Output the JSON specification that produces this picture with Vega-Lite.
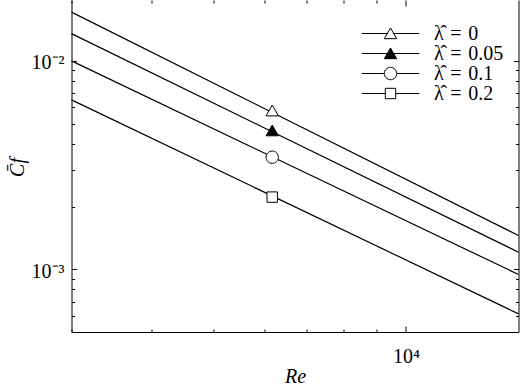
{
  "$schema": "https://vega.github.io/schema/vega-lite/v6.json",
  "width": 447,
  "height": 332,
  "autosize": {"type": "none"},
  "padding": {"left": 71.5, "top": 0, "right": 1.5, "bottom": 53},
  "background": "white",
  "config": {
    "view": {"stroke": null},
    "font": "Liberation Serif",
    "axis": {"grid": false, "domainColor": "black", "tickColor": "black", "labelColor": "black", "titleColor": "black", "labelFont": "Liberation Serif", "titleFont": "Liberation Serif", "labelFontSize": 20, "titleFontSize": 20, "titleFontWeight": "normal", "labelOverlap": false, "labelFlush": false, "domainWidth": 1, "tickWidth": 1}
  },
  "datasets": {
    "lines": [
      {"lam": "0", "Re": 3000, "Cf": 0.01714},
      {"lam": "0", "Re": 15000, "Cf": 0.001453},
      {"lam": "0.05", "Re": 3000, "Cf": 0.01352},
      {"lam": "0.05", "Re": 15000, "Cf": 0.001208},
      {"lam": "0.1", "Re": 3000, "Cf": 0.0100},
      {"lam": "0.1", "Re": 15000, "Cf": 0.000944},
      {"lam": "0.2", "Re": 3000, "Cf": 0.0065},
      {"lam": "0.2", "Re": 15000, "Cf": 0.000611}
    ],
    "markers": [
      {"lam": "0", "Re": 6180, "Cf": 0.00577},
      {"lam": "0.05", "Re": 6180, "Cf": 0.00463},
      {"lam": "0.1", "Re": 6180, "Cf": 0.00345},
      {"lam": "0.2", "Re": 6180, "Cf": 0.00222}
    ]
  },
  "layer": [
    {
      "data": {"name": "lines"},
      "mark": {"type": "line", "color": "black", "strokeWidth": 1.2},
      "encoding": {
        "x": {
          "field": "Re", "type": "quantitative",
          "scale": {"type": "log", "domain": [3000, 15000], "nice": false},
          "axis": {
            "orient": "bottom",
            "values": [3000, 4000, 5000, 6000, 7000, 8000, 9000, 10000],
            "labelExpr": "datum.value == 10000 ? '10⁴' : ''",
            "tickSize": {"condition": {"test": "datum.value == 10000", "value": -6}, "value": -3},
            "labelPadding": 36,
            "labelBaseline": "alphabetic",
            "title": "Re",
            "titleFontStyle": "italic",
            "titleY": 50,
            "titleBaseline": "alphabetic"
          }
        },
        "y": {
          "field": "Cf", "type": "quantitative",
          "scale": {"type": "log", "domain": [0.0005, 0.0196], "nice": false},
          "axis": {
            "orient": "left",
            "values": [0.0005, 0.0006, 0.0007, 0.0008, 0.0009, 0.001, 0.002, 0.003, 0.004, 0.005, 0.006, 0.007, 0.008, 0.009, 0.01],
            "labelExpr": "datum.value == 0.01 ? '10⁻²' : datum.value == 0.001 ? '10⁻³' : ''",
            "tickSize": {"condition": {"test": "datum.value == 0.01 || datum.value == 0.001", "value": -5}, "value": -3},
            "labelPadding": 12.5,
            "labelBaseline": "alphabetic",
            "labelOffset": 8,
            "title": "C̄f",
            "titleFontStyle": "italic",
            "titleX": -48.5,
            "titleY": 167,
            "titleAngle": -90,
            "titleAlign": "center",
            "titleBaseline": "alphabetic"
          }
        },
        "detail": {"field": "lam", "type": "nominal"}
      }
    },
    {
      "data": {"name": "markers"},
      "mark": {"type": "point", "stroke": "black", "strokeWidth": 1, "opacity": 1, "size": 169},
      "encoding": {
        "x": {
          "field": "Re", "type": "quantitative",
          "axis": {"orient": "top", "values": [3000, 4000, 5000, 6000, 7000, 8000, 9000, 10000], "labels": false, "domain": false, "tickSize": {"condition": {"test": "datum.value == 10000", "value": -6}, "value": -3}, "title": null}
        },
        "y": {
          "field": "Cf", "type": "quantitative",
          "axis": {"orient": "right", "values": [0.0005, 0.0006, 0.0007, 0.0008, 0.0009, 0.001, 0.002, 0.003, 0.004, 0.005, 0.006, 0.007, 0.008, 0.009, 0.01], "labels": false, "tickSize": {"condition": {"test": "datum.value == 0.01 || datum.value == 0.001", "value": -5}, "value": -3}, "title": null}
        },
        "shape": {
          "field": "lam", "type": "nominal",
          "scale": {"domain": ["0", "0.05", "0.1", "0.2"], "range": ["M-0.95,0.8L0,-0.85L0.95,0.8Z", "M-0.95,0.8L0,-0.85L0.95,0.8Z", "M0.95,0A0.95,0.95,0,1,1,-0.95,0A0.95,0.95,0,1,1,0.95,0Z", "M-0.8,-0.8H0.8V0.8H-0.8Z"]},
          "legend": null
        },
        "fill": {
          "field": "lam", "type": "nominal",
          "scale": {"domain": ["0", "0.05", "0.1", "0.2"], "range": ["white", "black", "white", "white"]},
          "legend": null
        }
      }
    },
    {
      "data": {"name": "markers"},
      "mark": {"type": "point", "stroke": "black", "strokeWidth": 1, "opacity": 0, "size": 169},
      "encoding": {
        "x": {"field": "Re", "type": "quantitative", "axis": null},
        "y": {"field": "Cf", "type": "quantitative", "axis": null},
        "shape": {
          "field": "lam", "type": "nominal",
          "scale": {"domain": ["0", "0.05", "0.1", "0.2"], "range": ["M-4.43,0H-0.49M0.49,0H4.43M-0.95,0.8L0,-0.85L0.95,0.8Z", "M-4.43,0H-0.49M0.49,0H4.43M-0.95,0.8L0,-0.85L0.95,0.8Z", "M-4.43,0H-0.95M0.95,0H4.43M0.95,0A0.95,0.95,0,1,1,-0.95,0A0.95,0.95,0,1,1,0.95,0Z", "M-4.43,0H-0.8M0.8,0H4.43M-0.8,-0.8H0.8V0.8H-0.8Z"]},
          "legend": {
            "orient": "none", "legendX": 309, "legendY": 23.5, "title": null, "padding": 0,
            "symbolSize": 169, "symbolStrokeWidth": 1, "symbolStrokeColor": "black", "symbolFillColor": "white", "symbolOpacity": 1,
            "labelFont": "Liberation Serif", "labelFontSize": 20, "labelColor": "black", "labelOffset": 33.5, "rowPadding": -0.5,
            "labelExpr": "'λ̂\u2004=\u2004' + datum.label",
            "encode": {"symbols": {"update": {"stroke": {"value": "black"}, "strokeWidth": {"value": 1}, "fill": {"signal": "datum.value == '0.05' ? 'black' : 'white'"}}}}
          }
        },
        "fill": {
          "field": "lam", "type": "nominal",
          "scale": {"domain": ["0", "0.05", "0.1", "0.2"], "range": ["white", "black", "white", "white"]},
          "legend": null
        }
      }
    }
  ],
  "resolve": {"axis": {"x": "independent", "y": "independent"}, "scale": {"shape": "independent"}}
}
